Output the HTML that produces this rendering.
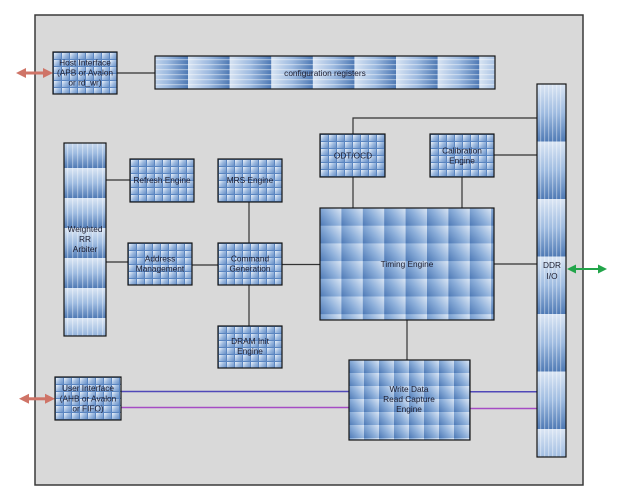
<!DOCTYPE html>
<html><head><meta charset="utf-8"><style>
html,body{margin:0;padding:0;background:#fff;}
svg{display:block;}
text{font-family:"Liberation Sans",Arial,sans-serif;font-size:8.3px;fill:#1c1c2e;text-anchor:middle;}
</style></head><body>
<svg width="622" height="503" viewBox="0 0 622 503" xmlns="http://www.w3.org/2000/svg">
<defs>
  <linearGradient id="cellS" gradientUnits="userSpaceOnUse" x1="1" y1="1" x2="8" y2="7">
    <stop offset="0" stop-color="#eef3fa"/>
    <stop offset="0.5" stop-color="#9cb9df"/>
    <stop offset="1" stop-color="#6890c7"/>
  </linearGradient>
  <linearGradient id="cellL" gradientUnits="userSpaceOnUse" x1="0" y1="17.7" x2="21.4" y2="0">
    <stop offset="0" stop-color="#4d79b6"/>
    <stop offset="0.5" stop-color="#8dafda"/>
    <stop offset="1" stop-color="#dbe6f4"/>
  </linearGradient>
  <linearGradient id="cellW" gradientUnits="userSpaceOnUse" x1="0" y1="13" x2="15" y2="0">
    <stop offset="0" stop-color="#4d79b6"/>
    <stop offset="0.5" stop-color="#8dafda"/>
    <stop offset="1" stop-color="#dbe6f4"/>
  </linearGradient>
  <linearGradient id="hseg" gradientUnits="userSpaceOnUse" x1="0" y1="0" x2="41.6" y2="0">
    <stop offset="0" stop-color="#d8e4f3"/>
    <stop offset="0.5" stop-color="#9dbae0"/>
    <stop offset="1" stop-color="#4e79b4"/>
  </linearGradient>
  <linearGradient id="vsegD" gradientUnits="userSpaceOnUse" x1="0" y1="0" x2="0" y2="57.5">
    <stop offset="0" stop-color="#dbe6f4"/>
    <stop offset="0.5" stop-color="#9fbce1"/>
    <stop offset="1" stop-color="#4f7ab5"/>
  </linearGradient>
  <linearGradient id="vsegA" gradientUnits="userSpaceOnUse" x1="0" y1="0" x2="0" y2="30">
    <stop offset="0" stop-color="#dbe6f4"/>
    <stop offset="0.5" stop-color="#9fbce1"/>
    <stop offset="1" stop-color="#4f7ab5"/>
  </linearGradient>
  <pattern id="sg" width="8" height="7" patternUnits="userSpaceOnUse">
    <rect width="8" height="7" fill="#5a85c0"/>
    <rect x="1" y="1" width="7" height="6" fill="url(#cellS)"/>
  </pattern>
  <pattern id="tg" width="21.4" height="17.7" patternUnits="userSpaceOnUse">
    <rect width="21.4" height="17.7" fill="url(#cellL)"/>
  </pattern>
  <pattern id="wg" width="15" height="13" patternUnits="userSpaceOnUse">
    <rect width="15" height="13" fill="url(#cellW)"/>
  </pattern>
  <pattern id="cr" x="-8.6" width="41.6" height="33" patternUnits="userSpaceOnUse">
    <rect width="41.6" height="33" fill="url(#hseg)"/>
    <g fill="#ffffff" opacity="0.4">
      <rect y="3" width="41.6" height="1.2"/>
      <rect y="8" width="41.6" height="1.2"/>
      <rect y="13" width="41.6" height="1.2"/>
      <rect y="18" width="41.6" height="1.2"/>
      <rect y="23" width="41.6" height="1.2"/>
      <rect y="28" width="41.6" height="1.2"/>
    </g>
  </pattern>
  <pattern id="dd" width="29" height="57.5" patternUnits="userSpaceOnUse">
    <rect width="29" height="57.5" fill="url(#vsegD)"/>
    <g fill="#ffffff" opacity="0.35">
      <rect x="3" width="1.2" height="57.5"/>
      <rect x="7" width="1.2" height="57.5"/>
      <rect x="11" width="1.2" height="57.5"/>
      <rect x="15" width="1.2" height="57.5"/>
      <rect x="19" width="1.2" height="57.5"/>
      <rect x="23" width="1.2" height="57.5"/>
    </g>
  </pattern>
  <pattern id="ar" y="-5" width="42" height="30" patternUnits="userSpaceOnUse">
    <rect width="42" height="30" fill="url(#vsegA)"/>
    <g fill="#ffffff" opacity="0.35">
      <rect x="3" width="1.2" height="30"/>
      <rect x="8" width="1.2" height="30"/>
      <rect x="13" width="1.2" height="30"/>
      <rect x="18" width="1.2" height="30"/>
      <rect x="23" width="1.2" height="30"/>
      <rect x="28" width="1.2" height="30"/>
      <rect x="33" width="1.2" height="30"/>
      <rect x="38" width="1.2" height="30"/>
    </g>
  </pattern>
</defs>

<rect x="35" y="15" width="548" height="470" fill="#d9d9d9" stroke="#3a3a3a" stroke-width="1.5"/>

<g stroke="#333" stroke-width="1.2" fill="none">
  <line x1="117" y1="73" x2="155" y2="73"/>
  <line x1="106" y1="180" x2="130" y2="180"/>
  <line x1="106" y1="262" x2="128" y2="262"/>
  <line x1="192" y1="265" x2="218" y2="265"/>
  <line x1="249" y1="202" x2="249" y2="243"/>
  <line x1="249" y1="285" x2="249" y2="326"/>
  <line x1="282" y1="264.5" x2="320" y2="264.5"/>
  <line x1="353" y1="177" x2="353" y2="208"/>
  <polyline points="353,134 353,118 537,118"/>
  <line x1="494" y1="155" x2="537" y2="155"/>
  <line x1="462" y1="177" x2="462" y2="208"/>
  <line x1="494" y1="264" x2="537" y2="264"/>
  <line x1="407" y1="320" x2="407" y2="360"/>
</g>
<g fill="none" stroke-width="1.5">
  <line x1="121" y1="391.5" x2="349" y2="391.5" stroke="#5048b8"/>
  <line x1="470" y1="391.8" x2="537" y2="391.8" stroke="#5048b8"/>
  <line x1="121" y1="407.5" x2="349" y2="407.5" stroke="#a54cc4"/>
  <line x1="470" y1="408.5" x2="537" y2="408.5" stroke="#a54cc4"/>
</g>

<g fill="#cf7467" stroke="none">
  <rect x="24" y="71.5" width="22" height="3"/>
  <polygon points="16,73 26,68 26,78"/>
  <polygon points="53,73 43,68 43,78"/>
  <rect x="27" y="397.3" width="21" height="3"/>
  <polygon points="19,398.8 29,393.8 29,403.8"/>
  <polygon points="55,398.8 45,393.8 45,403.8"/>
</g>
<g fill="#22a54a">
  <rect x="573" y="268" width="28" height="2"/>
  <polygon points="567,269 576,264.5 576,273.5"/>
  <polygon points="607,269 598,264.5 598,273.5"/>
</g>

<g stroke="#151515" stroke-width="1.2">
  <g transform="translate(53,52)"><rect width="64" height="42" fill="url(#sg)"/></g>
  <g transform="translate(155,56)"><rect width="340" height="33" fill="url(#cr)"/></g>
  <g transform="translate(537,84)"><rect width="29" height="373" fill="url(#dd)"/></g>
  <g transform="translate(64,143)"><rect width="42" height="193" fill="url(#ar)"/></g>
  <g transform="translate(130,159)"><rect width="64" height="43" fill="url(#sg)"/></g>
  <g transform="translate(218,159)"><rect width="64" height="43" fill="url(#sg)"/></g>
  <g transform="translate(128,243)"><rect width="64" height="42" fill="url(#sg)"/></g>
  <g transform="translate(218,243)"><rect width="64" height="42" fill="url(#sg)"/></g>
  <g transform="translate(218,326)"><rect width="64" height="42" fill="url(#sg)"/></g>
  <g transform="translate(320,134)"><rect width="65" height="43" fill="url(#sg)"/></g>
  <g transform="translate(430,134)"><rect width="64" height="43" fill="url(#sg)"/></g>
  <g transform="translate(320,208)"><rect width="174" height="112" fill="url(#tg)"/></g>
  <g transform="translate(349,360)"><rect width="121" height="80" fill="url(#wg)"/></g>
  <g transform="translate(55,377)"><rect width="66" height="43" fill="url(#sg)"/></g>
</g>

<text x="85" y="65.5">Host Interface</text>
<text x="85" y="75.5">(APB or Avalon</text>
<text x="85" y="85.5">or rd_wr)</text>
<text x="325" y="76">configuration registers</text>
<text x="162" y="183">Refresh Engine</text>
<text x="250" y="183">MRS Engine</text>
<text x="85" y="232">Weighted</text>
<text x="85" y="242">RR</text>
<text x="85" y="252">Arbiter</text>
<text x="160" y="261.5">Address</text>
<text x="160" y="271.5">Management</text>
<text x="250" y="261.5">Command</text>
<text x="250" y="271.5">Generation</text>
<text x="250" y="344">DRAM Init</text>
<text x="250" y="354">Engine</text>
<text x="353" y="158.5">ODT/OCD</text>
<text x="462" y="153.5">Calibration</text>
<text x="462" y="163.5">Engine</text>
<text x="407" y="267">Timing Engine</text>
<text x="552" y="268">DDR</text>
<text x="552" y="279">I/O</text>
<text x="88" y="391">User Interface</text>
<text x="88" y="401.5">(AHB or Avalon</text>
<text x="88" y="411.5">or FIFO)</text>
<text x="409" y="392">Write Data</text>
<text x="409" y="402">Read Capture</text>
<text x="409" y="412">Engine</text>
</svg>
</body></html>
